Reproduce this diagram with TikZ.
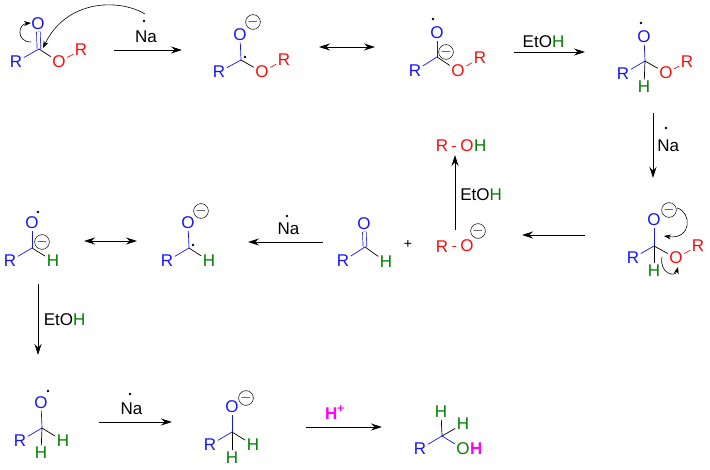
\documentclass[tikz,border=0pt]{standalone}
\usepackage{fontspec}
\setmainfont{Liberation Sans}
\usetikzlibrary{positioning}
\usetikzlibrary{arrows.meta}
\definecolor{chemblue}{HTML}{1414FF}
\definecolor{chemred}{HTML}{FF0A0A}
\definecolor{chemgreen}{HTML}{008000}
\definecolor{chemmagenta}{HTML}{FF00FF}
\tikzstyle{arrow} = [line width=0.9pt,-{Stealth[length=11pt,width=7pt]}]
\tikzstyle{dblarrow} = [line width=0.9pt,{Stealth[length=11pt,width=7pt]}-{Stealth[length=11pt,width=7pt]}]
\tikzstyle{curved} = [line width=0.6pt,-{Stealth[length=7pt,width=5pt]}]
\tikzstyle{atom} = [inner sep=1.5pt,font=\fontsize{17}{19}\selectfont]
\tikzstyle{bluebond} = [chemblue,line width=0.7pt]
\tikzstyle{redbond} = [chemred,line width=0.7pt]
\tikzstyle{shortbond} = [chemred,line width=0.7pt,shorten <=2.5pt,shorten >=2.5pt]
\tikzstyle{blackbond} = [black,line width=0.7pt]
\tikzstyle{doublebond} = [chemblue,line width=0.7pt,double,double distance=3pt]
\tikzstyle{charge} = [circle,draw,line width=0.5pt,inner sep=0pt,minimum size=14pt,font=\fontsize{14}{14}\selectfont]
\tikzstyle{radical} = [circle,fill,inner sep=0pt,minimum size=2.6pt]
\tikzstyle{reagent} = [font=\fontsize{17}{19}\selectfont]

\begin{document}
\begin{tikzpicture}[x=1pt,y=-1pt]
	\useasboundingbox (0,0) rectangle (710,470);

	%Ester
	\coordinate (C1) at (39,49);
	\node [atom,chemblue] (O1) at (38,24) {O};
	\node [atom,chemblue] (R1) at (16,62) {R};
	\node [atom,chemred] (Oa1) at (59,62) {O};
	\node [atom,chemred] (Ra1) at (81,50) {R};
	\draw[doublebond] (C1) -- (O1);
	\draw[bluebond] (C1) -- (R1);
	\draw[blackbond] (C1) -- (Oa1);
	\draw[redbond] (Oa1) -- (Ra1);
	\coordinate (S1) at (31,42);
	\coordinate (E1) at (31,23);
	\draw[curved] (S1) .. controls (16,42) and (18,24) .. (E1);
	\node [radical] (Dot1) at (144,21) {};
	\coordinate (S2) at (145,14);
	\coordinate (E2) at (43,48);
	\draw[curved] (S2) .. controls (118,-2) and (66,0) .. (E2);

	%Ketyl anion
	\coordinate (C2) at (241,60);
	\node [atom,chemblue] (O2) at (240,35) {O};
	\node [atom,chemblue] (R2) at (219,72) {R};
	\node [atom,chemred] (Oa2) at (262,72) {O};
	\node [atom,chemred] (Ra2) at (284,60) {R};
	\node [charge] (Neg2) at (253,22) {$-$};
	\node [radical] (Dot2) at (245,57) {};
	\draw[bluebond] (C2) -- (O2);
	\draw[bluebond] (C2) -- (R2);
	\draw[blackbond] (C2) -- (Oa2);
	\draw[redbond] (Oa2) -- (Ra2);

	%Resonance form
	\coordinate (C3) at (437,57);
	\node [atom,chemblue] (O3) at (437,33) {O};
	\node [atom,chemblue] (R3) at (415,71) {R};
	\node [atom,chemred] (Oa3) at (458,71) {O};
	\node [atom,chemred] (Ra3) at (480,58) {R};
	\node [radical] (Dot3) at (433,19) {};
	\draw[bluebond] (C3) -- (O3);
	\draw[bluebond] (C3) -- (R3);
	\draw[blackbond] (C3) -- (Oa3);
	\draw[redbond] (Oa3) -- (Ra3);
	\node [charge] (Neg3) at (446,52) {$-$};

	%Protonated radical
	\coordinate (C4) at (645,61);
	\node [atom,chemblue] (O4) at (644,37) {O};
	\node [atom,chemblue] (R4) at (623,74) {R};
	\node [atom,chemred] (Oa4) at (666,73) {O};
	\node [atom,chemred] (Ra4) at (687,62) {R};
	\node [atom,chemgreen] (H4) at (644,87) {H};
	\node [radical] (Dot4) at (641,23) {};
	\draw[bluebond] (C4) -- (O4);
	\draw[bluebond] (C4) -- (R4);
	\draw[blackbond] (C4) -- (Oa4);
	\draw[blackbond] (C4) -- (H4);
	\draw[redbond] (Oa4) -- (Ra4);

	%Tetrahedral anion
	\coordinate (C5) at (654,246);
	\node [atom,chemblue] (O5) at (654,220) {O};
	\node [atom,chemblue] (R5) at (633,258) {R};
	\node [atom,chemred] (Oa5) at (676,258) {O};
	\node [atom,chemred] (Ra5) at (698,246) {R};
	\node [atom,chemgreen] (H5) at (654,271) {H};
	\node [charge] (Neg5) at (669,210) {$-$};
	\draw[bluebond] (C5) -- (O5);
	\draw[bluebond] (C5) -- (R5);
	\draw[blackbond] (C5) -- (Oa5);
	\draw[blackbond] (C5) -- (H5);
	\draw[redbond] (Oa5) -- (Ra5);
	\coordinate (S3) at (677,208);
	\coordinate (E3) at (664,236);
	\draw[curved] (S3) .. controls (692,212) and (692,240) .. (E3);
	\coordinate (S4) at (662,257);
	\coordinate (E4) at (678,267);
	\draw[curved] (S4) .. controls (659,273) and (675,278) .. (E4);

	%Alkoxide and alcohol
	\node [atom,chemred] (Rb1) at (442,247) {R};
	\node [atom,chemred] (Ob1) at (467,246) {O};
	\node [charge] (Neg6) at (478,231) {$-$};
	\draw[shortbond] (Rb1) -- (Ob1);
	\node [atom,chemred] (Rb2) at (442,146) {R};
	\node [atom,chemred] (Ob2) at (467,146) {O};
	\node [atom,chemgreen,right=-3pt of Ob2] (Hb2) {H};
	\draw[shortbond] (Rb2) -- (Ob2);
	\node [atom] (Plus1) at (408,244) {\fontsize{14}{14}\selectfont +};

	%Aldehyde
	\coordinate (C6) at (365,247);
	\node [atom,chemblue] (O6) at (364,224) {O};
	\node [atom,chemblue] (R6) at (343,261) {R};
	\node [atom,chemgreen] (H6) at (386,262) {H};
	\draw[doublebond] (C6) -- (O6);
	\draw[bluebond] (C6) -- (R6);
	\draw[blackbond] (C6) -- (H6);

	%Aldehyde ketyl
	\coordinate (C7) at (189,248);
	\node [atom,chemblue] (O7) at (188,223) {O};
	\node [atom,chemblue] (R7) at (167,261) {R};
	\node [atom,chemgreen] (H7) at (209,261) {H};
	\node [charge] (Neg7) at (201,211) {$-$};
	\node [radical] (Dot7) at (193,245) {};
	\draw[bluebond] (C7) -- (O7);
	\draw[bluebond] (C7) -- (R7);
	\draw[blackbond] (C7) -- (H7);

	%Carbanion form
	\coordinate (C8) at (32,248);
	\node [atom,chemblue] (O8) at (32,223) {O};
	\node [atom,chemblue] (R8) at (10,261) {R};
	\node [atom,chemgreen] (H8) at (53,261) {H};
	\node [radical] (Dot8) at (38,212) {};
	\draw[bluebond] (C8) -- (O8);
	\draw[bluebond] (C8) -- (R8);
	\draw[blackbond] (C8) -- (H8);
	\node [charge] (Neg8) at (42,242) {$-$};

	%Alkoxy radical
	\coordinate (C9) at (42,428);
	\node [atom,chemblue] (O9) at (41,403) {O};
	\node [atom,chemblue] (R9) at (20,441) {R};
	\node [atom,chemgreen] (H9) at (63,441) {H};
	\node [atom,chemgreen] (Ha9) at (41,453) {H};
	\node [radical] (Dot9) at (48,391) {};
	\draw[bluebond] (C9) -- (O9);
	\draw[bluebond] (C9) -- (R9);
	\draw[blackbond] (C9) -- (H9);
	\draw[blackbond] (C9) -- (Ha9);

	%Alkoxide
	\coordinate (C10) at (232,432);
	\node [atom,chemblue] (O10) at (232,407) {O};
	\node [atom,chemblue] (R10) at (210,445) {R};
	\node [atom,chemgreen] (H10) at (253,445) {H};
	\node [atom,chemgreen] (Ha10) at (232,458) {H};
	\node [charge] (Neg10) at (246,398) {$-$};
	\draw[bluebond] (C10) -- (O10);
	\draw[bluebond] (C10) -- (R10);
	\draw[blackbond] (C10) -- (H10);
	\draw[blackbond] (C10) -- (Ha10);

	%Alcohol
	\coordinate (C11) at (442,436);
	\node [atom,chemgreen] (H11) at (441,412) {H};
	\node [atom,chemgreen] (Ha11) at (463,424) {H};
	\node [atom,chemblue] (R11) at (420,449) {R};
	\node [atom,chemgreen] (O11) at (463,449) {O};
	\node [atom,chemmagenta,font=\fontsize{17}{19}\selectfont\bfseries,right=-3pt of O11] (Hb11) {H};
	\draw[blackbond] (C11) -- (H11);
	\draw[blackbond] (C11) -- (Ha11);
	\draw[bluebond] (C11) -- (R11);
	\draw[bluebond] (C11) -- (O11);

	%Reaction arrows
	\coordinate (A1) at (114,50);
	\coordinate (B1) at (182,50);
	\draw[arrow] (A1) -- node[reagent,above=4pt,xshift=-2pt] (Na1) {Na} (B1);
	\coordinate (A2) at (319,47);
	\coordinate (B2) at (375,47);
	\draw[dblarrow] (A2) -- (B2);
	\coordinate (A3) at (514,52);
	\coordinate (B3) at (585,52);
	\draw[arrow] (A3) -- node[reagent,above=1pt,xshift=-6pt] (Et1) {EtO\textcolor{chemgreen}{H}} (B3);
	\coordinate (A4) at (653,113);
	\coordinate (B4) at (653,178);
	\draw[arrow] (A4) -- node[reagent,right=0.5pt] (Na2) {Na} (B4);
	\node [radical] (Dot10) at (666,128) {};
	\coordinate (A5) at (585,235);
	\coordinate (B5) at (522,235);
	\draw[arrow] (A5) -- (B5);
	\coordinate (A6) at (455,230);
	\coordinate (B6) at (455,155);
	\draw[arrow] (A6) -- node[reagent,right=1.5pt,yshift=-2pt] (Et2) {EtO\textcolor{chemgreen}{H}} (B6);
	\coordinate (A7) at (323,242);
	\coordinate (B7) at (248,242);
	\draw[arrow] (A7) -- node[reagent,above=4pt,xshift=3pt] (Na3) {Na} (B7);
	\node [radical] (Dot11) at (287,216) {};
	\coordinate (A8) at (84,241);
	\coordinate (B8) at (137,241);
	\draw[dblarrow] (A8) -- (B8);
	\coordinate (A9) at (38,284);
	\coordinate (B9) at (38,355);
	\draw[arrow] (A9) -- node[reagent,right=2pt] (Et3) {EtO\textcolor{chemgreen}{H}} (B9);
	\coordinate (A10) at (99,422);
	\coordinate (B10) at (172,422);
	\draw[arrow] (A10) -- node[reagent,above=4pt,xshift=-4pt] (Na4) {Na} (B10);
	\node [radical] (Dot12) at (130,394) {};
	\coordinate (A11) at (306,427);
	\coordinate (B11) at (382,427);
	\draw[arrow] (A11) -- node[reagent,above=4pt,xshift=-9pt,chemmagenta,font=\fontsize{17}{19}\selectfont\bfseries] (Hp1) {H\textsuperscript{+}} (B11);
\end{tikzpicture}
\end{document}
